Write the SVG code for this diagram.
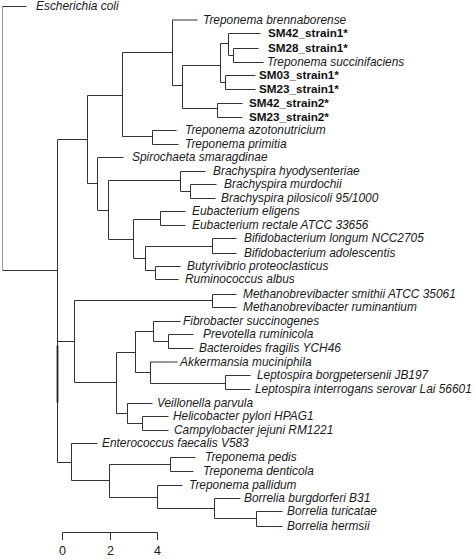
<svg xmlns="http://www.w3.org/2000/svg" width="474" height="559" viewBox="0 0 474 559">
<style>
.t{font-family:"Liberation Sans",Arial,Helvetica,sans-serif;font-size:11.9px;font-style:italic;fill:#1a1a1a}
.b{font-family:"Liberation Sans",Arial,Helvetica,sans-serif;font-size:11.7px;font-weight:bold;fill:#111}
.e{fill:none;stroke:#333;stroke-width:1}
.s{font-family:"Liberation Sans",Arial,Helvetica,sans-serif;font-size:12.5px;fill:#1a1a1a;text-anchor:middle}
</style>
<rect width="474" height="559" fill="#fff"/>
<g id="connectors" class="e" transform="translate(0.5,0.5)">
<path d="M2,6V270" stroke="#999"/>
<path d="M2,6H26M2,270H57"/>
<path d="M57,139V462M57,139H87M57,341H74M57,462H71"/>
<path d="M57,345V402" stroke-width="1.8" stroke="#222"/>
<path d="M87,95V183M87,95H122M87,183H97"/>
<path d="M122,52V136M122,52H172M122,136H152"/>
<path d="M172,19.5V85M172,19.5H197M172,85H182"/>
<path d="M182,65V108M182,65H220M182,108H217"/>
<path d="M220,43V82M220,43H228M220,82H225"/>
<path d="M228,33V55M228,33H260M228,55H233"/>
<path d="M233,48V62M233,48H258M233,62H263"/>
<path d="M225,75V89M225,75H255M225,89H255"/>
<path d="M217,103V117M217,103H242M217,117H242"/>
<path d="M152,130V144M152,130H176M152,144H178"/>
<path d="M97,157V210M97,157H123M97,210H108"/>
<path d="M108,180V239M108,180H180M108,239H133"/>
<path d="M180,171V191M180,171H205M180,191H190"/>
<path d="M190,184V198M190,184H216M190,198H215"/>
<path d="M133,219V258M133,219H160M133,258H145"/>
<path d="M160,211V225M160,211H185M160,225H185"/>
<path d="M145,246V270M145,246H212M145,270H155"/>
<path d="M212,238V253M212,238H236M212,253H236"/>
<path d="M155,266V279M155,266H180M155,279H178"/>
<path d="M74,300V382M74,300H212M74,382H116"/>
<path d="M212,294V307M212,294H236M212,307H236"/>
<path d="M116,352V413M116,352H135M116,413H127"/>
<path d="M135,331V372M135,331H153M135,372H150"/>
<path d="M153,321V341M153,321H180M153,341H168"/>
<path d="M168,334V348M168,334H193M168,348H193"/>
<path d="M150,361.5V383M150,361.5H177M150,383H225"/>
<path d="M225,375V389M225,375H250M225,389H250"/>
<path d="M127,403V423M127,403H152M127,423H142"/>
<path d="M142,416V430M142,416H168M142,430H168"/>
<path d="M71,443V480M71,443H97M71,480H109"/>
<path d="M109,464V497M109,464H170M109,497H157"/>
<path d="M170,457V471M170,457H195M170,471H193"/>
<path d="M157,485V508M157,485H182M157,508H214"/>
<path d="M214,498V518M214,498H240M214,518H256"/>
<path d="M256,511V526M256,511H282M256,526H282"/>
</g>
<g id="leaf-ecoli"><text class="t" x="36" y="10.3">Escherichia coli</text></g>
<g id="leaf-tbren"><text class="t" x="203" y="23.8">Treponema brennaborense</text></g>
<g id="leaf-sm42s1"><text class="b" x="268" y="37.3">SM42_strain1*</text></g>
<g id="leaf-sm28s1"><text class="b" x="268" y="52.3">SM28_strain1*</text></g>
<g id="leaf-tsucc"><text class="t" x="267" y="66.3">Treponema succinifaciens</text></g>
<g id="leaf-sm03s1"><text class="b" x="259" y="79.3">SM03_strain1*</text></g>
<g id="leaf-sm23s1"><text class="b" x="259" y="93.3">SM23_strain1*</text></g>
<g id="leaf-sm42s2"><text class="b" x="249" y="107.3">SM42_strain2*</text></g>
<g id="leaf-sm23s2"><text class="b" x="249" y="121.3">SM23_strain2*</text></g>
<g id="leaf-tazo"><text class="t" x="185" y="134.3">Treponema azotonutricium</text></g>
<g id="leaf-tprim"><text class="t" x="185" y="148.3">Treponema primitia</text></g>
<g id="leaf-spiro"><text class="t" x="132" y="161.3">Spirochaeta smaragdinae</text></g>
<g id="leaf-bhyo"><text class="t" x="213" y="175.3">Brachyspira hyodysenteriae</text></g>
<g id="leaf-bmur"><text class="t" x="224" y="188.3">Brachyspira murdochii</text></g>
<g id="leaf-bpil"><text class="t" x="221" y="202.3">Brachyspira pilosicoli 95/1000</text></g>
<g id="leaf-eeli"><text class="t" x="192" y="215.3">Eubacterium eligens</text></g>
<g id="leaf-erec"><text class="t" x="192" y="229.3">Eubacterium rectale ATCC 33656</text></g>
<g id="leaf-blon"><text class="t" x="244" y="242.3">Bifidobacterium longum NCC2705</text></g>
<g id="leaf-bado"><text class="t" x="244" y="257.3">Bifidobacterium adolescentis</text></g>
<g id="leaf-bprot"><text class="t" x="187" y="270.3">Butyrivibrio proteoclasticus</text></g>
<g id="leaf-ralb"><text class="t" x="185" y="283.3">Ruminococcus albus</text></g>
<g id="leaf-msmi"><text class="t" x="243" y="298.3">Methanobrevibacter smithii ATCC 35061</text></g>
<g id="leaf-mrum"><text class="t" x="243" y="311.3">Methanobrevibacter ruminantium</text></g>
<g id="leaf-fsuc"><text class="t" x="183" y="325.3">Fibrobacter succinogenes</text></g>
<g id="leaf-prum"><text class="t" x="203" y="338.3">Prevotella ruminicola</text></g>
<g id="leaf-bfra"><text class="t" x="199" y="352.3">Bacteroides fragilis YCH46</text></g>
<g id="leaf-amuc"><text class="t" x="180" y="365.8">Akkermansia muciniphila</text></g>
<g id="leaf-lbor"><text class="t" x="257" y="379.3">Leptospira borgpetersenii JB197</text></g>
<g id="leaf-lint"><text class="t" x="255" y="393.3">Leptospira interrogans serovar Lai 56601</text></g>
<g id="leaf-vpar"><text class="t" x="157" y="407.3">Veillonella parvula</text></g>
<g id="leaf-hpyl"><text class="t" x="173" y="420.3">Helicobacter pylori HPAG1</text></g>
<g id="leaf-cjej"><text class="t" x="174" y="434.3">Campylobacter jejuni RM1221</text></g>
<g id="leaf-efae"><text class="t" x="102" y="447.3">Enterococcus faecalis V583</text></g>
<g id="leaf-tped"><text class="t" x="205" y="461.3">Treponema pedis</text></g>
<g id="leaf-tden"><text class="t" x="203" y="475.3">Treponema denticola</text></g>
<g id="leaf-tpal"><text class="t" x="189" y="489.3">Treponema pallidum</text></g>
<g id="leaf-bbur"><text class="t" x="244" y="502.3">Borrelia burgdorferi B31</text></g>
<g id="leaf-btur"><text class="t" x="287" y="515.3">Borrelia turicatae</text></g>
<g id="leaf-bher"><text class="t" x="287" y="530.3">Borrelia hermsii</text></g>
<g id="scale-bar">
<path class="e" d="M62.5,540V532.5H157.5V540M110.5,532.5V540"/>
<text class="s" x="62.5" y="555">0</text>
<text class="s" x="110.5" y="555">2</text>
<text class="s" x="157.5" y="555">4</text>
</g>
</svg>
